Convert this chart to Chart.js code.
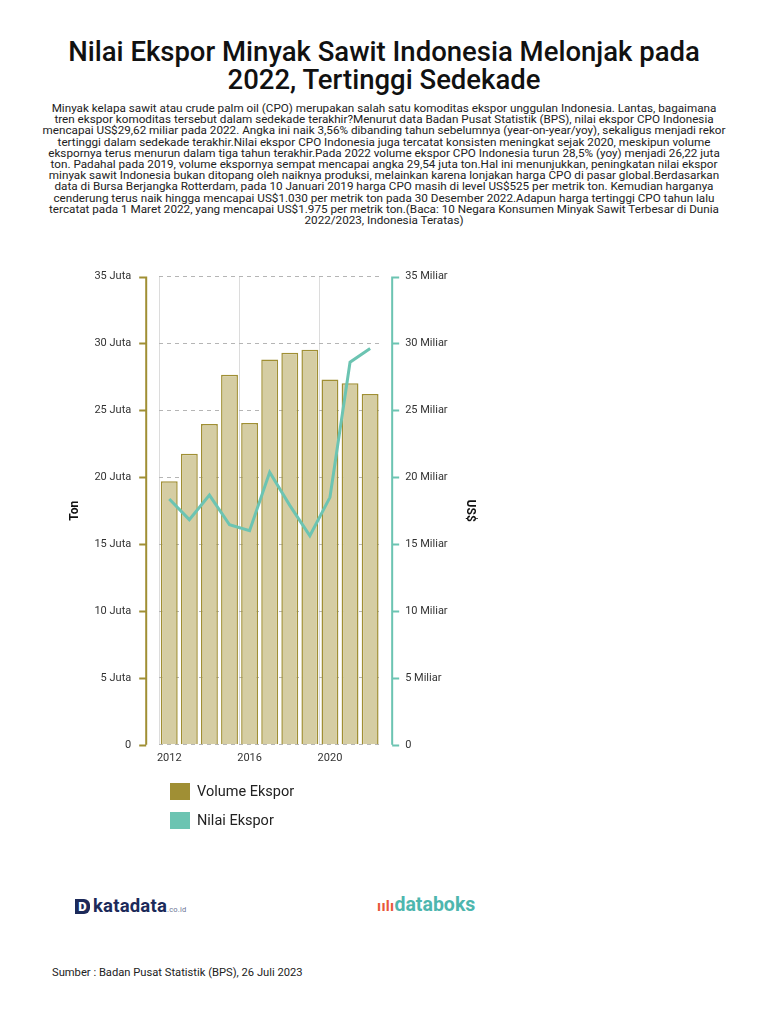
<!DOCTYPE html>
<html lang="id">
<head>
<meta charset="utf-8">
<title>Nilai Ekspor Minyak Sawit Indonesia</title>
<script src="https://cdn.jsdelivr.net/npm/chart.js@4"></script>
<style>
  body { margin: 0; width: 768px; height: 1024px; background: #fff; font-family: Roboto, sans-serif; color: #1a1a1a; position: relative; overflow: hidden; }
  h1 { position: absolute; top: 38px; left: 0; width: 768px; margin: 0; font-size: 27.5px; line-height: 28px; font-weight: 500; text-align: center; color: #111; }
  #desc { position: absolute; top: 103px; left: 0; width: 768px; font-size: 11.7px; line-height: 11.2px; text-align: center; color: #222; }
  #chartBox { position: absolute; left: 50px; top: 242px; width: 460px; height: 548px; }
  #legend { position: absolute; left: 170px; top: 777px; font-size: 14.5px; color: #222; }
  #legend div { display: flex; align-items: center; height: 29px; }
  #legend span.box { width: 20px; height: 17px; margin-right: 7px; display: inline-block; }
  .kata { position: absolute; left: 75px; top: 895px; font-size: 18.5px; font-weight: 700; color: #1c2a5a; letter-spacing: 0.2px; }
  .kata b { display: inline-block; background: #1c2a5a; color: #fff; width: 15px; height: 15px; line-height: 15px; font-size: 13px; text-align: center; border-radius: 0 6px 6px 0; margin-right: 3px; vertical-align: 1px; }
  .kata small { font-size: 7.5px; font-weight: 400; color: #6a7394; }
  .boks { position: absolute; left: 377px; top: 893px; font-size: 19.5px; font-weight: 700; color: #4db6ae; }
  .boks i { font-style: normal; color: #e8573a; letter-spacing: 0.3px; margin-right: 0; font-size: 15px; }
  #source { position: absolute; left: 52px; top: 966px; font-size: 11.2px; color: #222; }
</style>
</head>
<body>
<h1>Nilai Ekspor Minyak Sawit Indonesia Melonjak pada<br>2022, Tertinggi Sedekade</h1>
<div id="desc">
Minyak kelapa sawit atau crude palm oil (CPO) merupakan salah satu komoditas ekspor unggulan Indonesia. Lantas, bagaimana<br>
tren ekspor komoditas tersebut dalam sedekade terakhir?Menurut data Badan Pusat Statistik (BPS), nilai ekspor CPO Indonesia<br>
mencapai US$29,62 miliar pada 2022. Angka ini naik 3,56% dibanding tahun sebelumnya (year-on-year/yoy), sekaligus menjadi rekor<br>
tertinggi dalam sedekade terakhir.Nilai ekspor CPO Indonesia juga tercatat konsisten meningkat sejak 2020, meskipun volume<br>
ekspornya terus menurun dalam tiga tahun terakhir.Pada 2022 volume ekspor CPO Indonesia turun 28,5% (yoy) menjadi 26,22 juta<br>
ton. Padahal pada 2019, volume ekspornya sempat mencapai angka 29,54 juta ton.Hal ini menunjukkan, peningkatan nilai ekspor<br>
minyak sawit Indonesia bukan ditopang oleh naiknya produksi, melainkan karena lonjakan harga CPO di pasar global.Berdasarkan<br>
data di Bursa Berjangka Rotterdam, pada 10 Januari 2019 harga CPO masih di level US$525 per metrik ton. Kemudian harganya<br>
cenderung terus naik hingga mencapai US$1.030 per metrik ton pada 30 Desember 2022.Adapun harga tertinggi CPO tahun lalu<br>
tercatat pada 1 Maret 2022, yang mencapai US$1.975 per metrik ton.(Baca: 10 Negara Konsumen Minyak Sawit Terbesar di Dunia<br>
2022/2023, Indonesia Teratas)
</div>
<div id="chartBox"><canvas id="sawitChart"></canvas></div>
<div id="legend"></div>
<div class="kata"><b>D</b>katadata<small>.co.id</small></div>
<div class="boks"><i>ıılı</i>databoks</div>
<div id="source">Sumber : Badan Pusat Statistik (BPS), 26 Juli 2023</div>

<script>
// Data (volume in juta ton, nilai in miliar US$)
const years = ['2012', '2013', '2014', '2015', '2016', '2017', '2018', '2019', '2020', '2021', '2022'];
const volumeEkspor = [19.7, 21.76, 23.98, 27.67, 24.06, 28.8, 29.3, 29.54, 27.3, 27.03, 26.22];
const nilaiEkspor = [18.37, 16.83, 18.67, 16.45, 16.0, 20.37, 17.9, 15.63, 18.5, 28.6, 29.62];
const shownYears = ['2012', '2016', '2020'];

const volumeColor = '#a08f34';
const volumeFill = '#d5cda3';
const nilaiColor = '#6cc4b2';

Chart.defaults.font.family = 'Roboto, sans-serif';
Chart.defaults.color = '#333';

// Axis lines sit a little apart from the plot area, like the original
const axisLines = {
    id: 'axisLines',
    afterDraw(chart) {
        const { ctx, chartArea, scales } = chart;
        const drawAxis = (scale, x, dir, color) => {
            ctx.save();
            ctx.strokeStyle = color;
            ctx.lineWidth = 2;
            ctx.beginPath();
            ctx.moveTo(x, scale.top);
            ctx.lineTo(x, scale.bottom);
            scale.ticks.forEach(t => {
                const y = Math.round(scale.getPixelForValue(t.value)) + 0.5;
                ctx.moveTo(x, y);
                ctx.lineTo(x + dir, y);
            });
            ctx.stroke();
            ctx.restore();
        };
        drawAxis(scales.y, chartArea.left - 13, -7, volumeColor);
        drawAxis(scales.y1, chartArea.right + 12, 7, nilaiColor);
    }
};

const chart = new Chart(document.getElementById('sawitChart').getContext('2d'), {
    type: 'bar',
    data: {
        labels: years,
        datasets: [
            {
                type: 'bar',
                label: 'Volume Ekspor',
                data: volumeEkspor,
                yAxisID: 'y',
                backgroundColor: volumeFill,
                borderColor: volumeColor,
                borderWidth: 1.5,
                categoryPercentage: 1,
                barPercentage: 0.84,
                order: 2,
                legendColor: volumeColor
            },
            {
                type: 'line',
                label: 'Nilai Ekspor',
                data: nilaiEkspor,
                yAxisID: 'y1',
                borderColor: nilaiColor,
                backgroundColor: nilaiColor,
                borderWidth: 3,
                pointRadius: 0,
                tension: 0,
                order: 1,
                legendColor: nilaiColor
            }
        ]
    },
    options: {
        responsive: true,
        maintainAspectRatio: false,
        animation: false,
        layout: { padding: { left: 18, right: 33, top: 8, bottom: 18 } },
        plugins: {
            legend: { display: false },
            tooltip: { enabled: false }
        },
        scales: {
            x: {
                offset: true,
                grid: {
                    offset: true,
                    drawTicks: false,
                    color: ctx => (ctx.index !== undefined && ctx.index % 4 === 0) ? '#dcdcdc' : 'rgba(0,0,0,0)'
                },
                border: { display: false },
                ticks: {
                    autoSkip: false,
                    maxRotation: 0,
                    padding: 7,
                    font: { size: 11 },
                    callback: function (v) {
                        const label = this.getLabelForValue(v);
                        return shownYears.includes(label) ? label : '';
                    }
                }
            },
            y: {
                position: 'left',
                min: 0,
                max: 35,
                grid: { drawTicks: false, color: '#b5b5b5' },
                border: { display: false, dash: [4, 4] },
                ticks: {
                    stepSize: 5,
                    padding: 28,
                    font: { size: 11 },
                    callback: v => v === 0 ? '0' : v + ' Juta'
                },
                title: {
                    display: true,
                    text: 'Ton',
                    color: '#111',
                    font: { size: 12, weight: 'bold' },
                    padding: { top: 0, bottom: -16 }
                }
            },
            y1: {
                position: 'right',
                min: 0,
                max: 35,
                grid: { drawOnChartArea: false, drawTicks: false },
                border: { display: false },
                ticks: {
                    stepSize: 5,
                    padding: 25,
                    font: { size: 11 },
                    callback: v => v === 0 ? '0' : v + ' Miliar'
                },
                title: {
                    display: true,
                    text: 'US$',
                    color: '#111',
                    font: { size: 12, weight: 'bold' },
                    padding: { top: 0, bottom: -10 }
                }
            }
        }
    },
    plugins: [axisLines]
});

// Vertical legend under the chart, built from the datasets
const legendEl = document.getElementById('legend');
chart.data.datasets.forEach(ds => {
    const row = document.createElement('div');
    row.innerHTML = `<span class="box" style="background:${ds.legendColor}"></span>${ds.label}`;
    legendEl.appendChild(row);
});
</script>
</body>
</html>
